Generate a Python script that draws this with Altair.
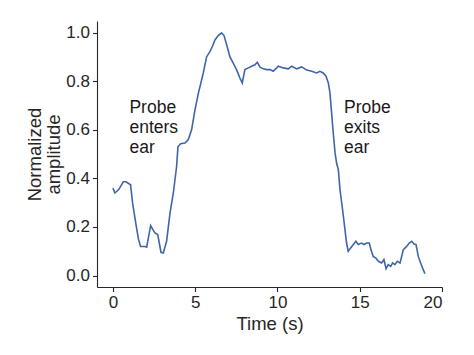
import altair as alt
import pandas as pd

time_s = [0.0, 0.12, 0.35, 0.63, 0.79, 1.07, 1.19, 1.40, 1.55, 1.68, 1.95, 2.05, 2.29, 2.42, 2.55, 2.72,
          2.92, 3.06, 3.26, 3.47, 3.67, 3.87, 3.95, 4.11, 4.38, 4.58, 4.78, 4.98, 5.19, 5.49, 5.69, 5.90,
          6.05, 6.20, 6.40, 6.60, 6.75, 6.91, 7.11, 7.31, 7.51, 7.72, 7.86, 8.02, 8.23, 8.43, 8.63, 8.77,
          8.94, 9.14, 9.34, 9.54, 9.74, 9.95, 10.05, 10.35, 10.66, 10.86, 11.17, 11.47, 11.78, 12.08,
          12.38, 12.58, 12.78, 12.95, 13.09, 13.19, 13.29, 13.39, 13.50, 13.60, 13.70, 13.80, 13.96,
          14.10, 14.20, 14.30, 14.45, 14.61, 14.77, 14.91, 15.11, 15.26, 15.42, 15.58, 15.68, 15.82,
          15.98, 16.13, 16.33, 16.47, 16.60, 16.73, 16.88, 17.00, 17.14, 17.28, 17.45, 17.65, 17.85,
          18.01, 18.16, 18.30, 18.42, 18.56, 18.70, 18.82, 18.96]
amplitude = [0.36, 0.34, 0.354, 0.386, 0.386, 0.374, 0.30, 0.21, 0.15, 0.12, 0.12, 0.117, 0.206, 0.19,
             0.176, 0.169, 0.096, 0.093, 0.141, 0.258, 0.34, 0.45, 0.53, 0.543, 0.546, 0.56, 0.60, 0.68,
             0.75, 0.834, 0.90, 0.923, 0.944, 0.97, 0.988, 0.999, 0.988, 0.95, 0.90, 0.875, 0.848, 0.813,
             0.793, 0.848, 0.855, 0.862, 0.868, 0.878, 0.858, 0.851, 0.848, 0.848, 0.841, 0.855, 0.862,
             0.855, 0.851, 0.862, 0.851, 0.859, 0.846, 0.841, 0.834, 0.841, 0.834, 0.821, 0.793, 0.752,
             0.67, 0.587, 0.505, 0.46, 0.436, 0.354, 0.27, 0.19, 0.134, 0.10, 0.114, 0.128, 0.141, 0.128,
             0.134, 0.128, 0.134, 0.134, 0.107, 0.079, 0.072, 0.059, 0.052, 0.066, 0.028, 0.045, 0.038,
             0.052, 0.045, 0.059, 0.052, 0.107, 0.12, 0.134, 0.141, 0.13, 0.128, 0.079, 0.052, 0.031,
             0.008]

note_text = ["Probe\nenters\near", "Probe\nexits\near"]
note_x = [1.0, 14.05]
note_y = [0.67, 0.67]

FONT = "Liberation Sans"
INK = "#262626"

df = pd.DataFrame({"t": time_s, "a": amplitude})
notes = pd.DataFrame({"t": note_x, "a": note_y, "label": note_text})

x_scale = alt.Scale(domain=[-0.97, 20], nice=False, zero=False)
y_scale = alt.Scale(domain=[-0.047, 1.048], nice=False, zero=False)

line = alt.Chart(df).mark_line(color="#3f66a9", strokeWidth=1.6).encode(
    x=alt.X("t:Q", scale=x_scale,
            axis=alt.Axis(title="Time (s)", values=[0, 5, 10, 15, 20], format="d",
                          titleX=172.5, titleY=42, titleBaseline="alphabetic",
                          titleAnchor="middle", titleAlign="center")),
    y=alt.Y("a:Q", scale=y_scale,
            axis=alt.Axis(title=["Normalized", "amplitude"], values=[0, 0.2, 0.4, 0.6, 0.8, 1.0],
                          format=".1f", titleX=-53, titleY=133, titleAngle=270,
                          titleBaseline="bottom", titleAlign="center", titleLineHeight=19)),
)

text = alt.Chart(notes).mark_text(
    align="left", baseline="alphabetic", lineBreak="\n", lineHeight=20,
    fontSize=17.5, font=FONT, color="#1a1a1a"
).encode(x=alt.X("t:Q", scale=x_scale), y=alt.Y("a:Q", scale=y_scale), text="label:N")

chart = (line + text).properties(
    width=345, height=266,
    autosize=alt.AutoSizeParams(type="none"),
    padding={"left": 97, "top": 21, "right": 32, "bottom": 68},
).configure_view(stroke=None).configure_axis(
    grid=False, domainColor=INK, tickColor=INK, labelColor=INK, titleColor=INK,
    labelFont=FONT, titleFont=FONT, labelFontSize=17, titleFontSize=18.5,
    titleFontWeight="normal", tickSize=4.5, labelPadding=3, domainWidth=1.1, tickWidth=1.1,
)

chart.save("out.html", embed_options={"renderer": "svg", "actions": False})
